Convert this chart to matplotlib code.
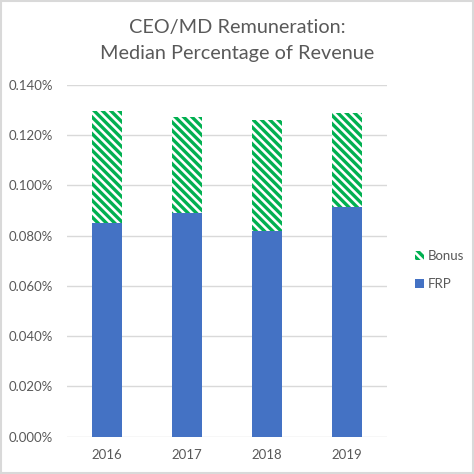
import numpy as np
import matplotlib.pyplot as plt
from matplotlib.patches import Rectangle

years = ["2016", "2017", "2018", "2019"]
frp = [0.0852, 0.0891, 0.0819, 0.0916]
bonus = [0.0446, 0.0380, 0.0441, 0.0371]
y_ticks = [0.0, 0.02, 0.04, 0.06, 0.08, 0.10, 0.12, 0.14]

text_col = "#595959"
blue = "#4472C4"
green = "#00B050"

plt.rcParams.update({
    "font.family": ["Lato", "DejaVu Sans"],
    "hatch.linewidth": 2.4,
})

fig = plt.figure(figsize=(4.74, 4.74), dpi=100)
ax = fig.add_axes([0.1414, 0.0787, 0.6751, 0.742])

x = np.arange(len(years))
ax.bar(x, frp, width=0.38, color=blue, label="FRP", zorder=2)
ax.bar(x, bonus, width=0.38, bottom=frp, facecolor="white", edgecolor=green,
       hatch="\\\\\\\\", linewidth=0, label="Bonus", zorder=2)

ax.set_xlim(-0.5, len(years) - 0.5)
ax.set_ylim(0, 0.14)
ax.set_yticks(y_ticks)
ax.set_yticklabels([f"{v:.3f}%" for v in y_ticks])
ax.set_xticks(x)
ax.set_xticklabels(years)
ax.tick_params(length=0, labelsize=9.5, colors=text_col)
ax.tick_params(axis="x", pad=9)
ax.tick_params(axis="y", pad=10)
ax.grid(axis="y", color="#D9D9D9", linewidth=1, zorder=0)
for s in ax.spines.values():
    s.set_visible(False)

fig.text(0.5, 0.943, "CEO/MD Remuneration:", ha="center", va="center",
         fontsize=14.3, color=text_col)
fig.text(0.5, 0.888, "Median Percentage of Revenue", ha="center", va="center",
         fontsize=14.3, color=text_col)

handles, labels = ax.get_legend_handles_labels()
leg = fig.legend(handles[::-1], labels[::-1], loc="center left",
                 bbox_to_anchor=(0.85, 0.43), frameon=False, fontsize=9.5,
                 handlelength=0.7, handleheight=0.7, handletextpad=0.3,
                 labelspacing=1.2, labelcolor=text_col)

fig.patches.append(Rectangle((0.002, 0.002), 0.996, 0.996, transform=fig.transFigure,
                             fill=False, edgecolor="#D9D9D9", linewidth=1.5))

fig.savefig("out.png", dpi=100)
